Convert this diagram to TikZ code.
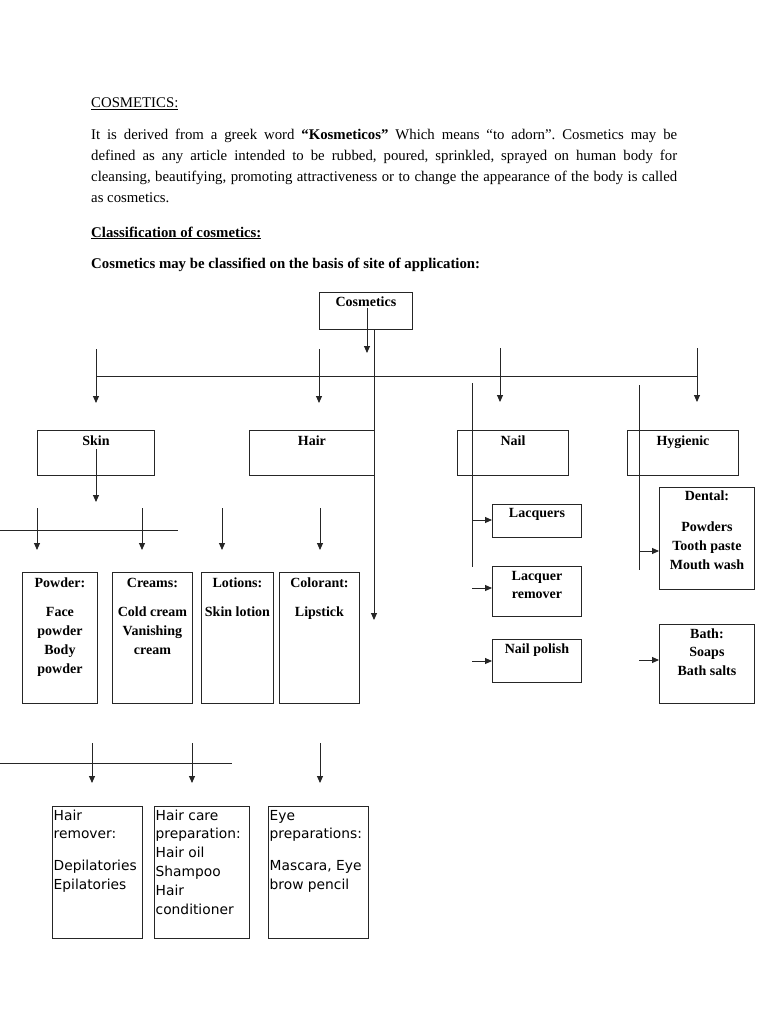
\documentclass[tikz,border=0pt]{standalone}
\usepackage{fontspec}
\setmainfont{Liberation Serif}
\newfontfamily\dvs{DejaVu Sans}
\usetikzlibrary{arrows.meta,calc}
\newcommand{\tc}[1]{\begin{tabular}[t]{@{}c@{}}#1\end{tabular}}
\newcommand{\tlft}[1]{\begin{tabular}[t]{@{}l@{}}#1\end{tabular}}
\frenchspacing
\begin{document}
\begin{tikzpicture}[x=1pt,y=-1pt,
  ln/.style={line width=0.9pt, draw=black!85},
  arr/.style={ln, -{Triangle[length=7pt,width=6pt]}},
  bx/.style={draw=black!85, line width=0.9pt, anchor=north west, inner sep=0pt},
  bl/.style={font=\fontsize{14}{18.8}\selectfont\bfseries, anchor=base, inner sep=0pt},
  sl/.style={font=\dvs\fontsize{13.8}{18.8}\selectfont, anchor=base west, inner sep=0pt},
  tx/.style={font=\fontsize{14.8}{21}\selectfont, anchor=base west, inner sep=0pt}]
\useasboundingbox (0,0) rectangle (768,1024);
\fill[white] (0,0) rectangle (768,1024);

% ---------- text ----------
\node[tx] (title) at (91,108) {\underline{COSMETICS:}};
\node[tx, text width=586pt, align=justify] (para) at (91,139.5)
 {It is derived from a greek word \textbf{“Kosmeticos”} Which means “to adorn”. Cosmetics may be\linebreak
  defined as any article intended to be rubbed, poured, sprinkled, sprayed on human body for\linebreak
  cleansing, beautifying, promoting attractiveness or to change the appearance of the body is called\linebreak
  as cosmetics.};
\node[tx] (class) at (91,237) {\underline{\textbf{Classification of cosmetics:}}};
\node[tx] (basis) at (91,268) {\textbf{Cosmetics may be classified on the basis of site of application:}};

% ---------- boxes ----------
\node[bx, minimum width=93pt, minimum height=37pt] (cos) at (319,292) {};
\node[bx, minimum width=117pt, minimum height=45pt] (skin) at (37,430) {};
\node[bx, minimum width=125pt, minimum height=45pt] (hair) at (249,430) {};
\node[bx, minimum width=111pt, minimum height=45pt] (nail) at (457,430) {};
\node[bx, minimum width=111pt, minimum height=45pt] (hyg) at (627,430) {};
\node[bx, minimum width=89pt, minimum height=33pt] (lacq) at (492,504) {};
\node[bx, minimum width=89pt, minimum height=50pt] (lrem) at (492,566) {};
\node[bx, minimum width=89pt, minimum height=43pt] (npol) at (492,639) {};
\node[bx, minimum width=95pt, minimum height=102pt] (dent) at (659,487) {};
\node[bx, minimum width=95pt, minimum height=79pt] (bath) at (659,624) {};
\node[bx, minimum width=75pt, minimum height=131pt] (powd) at (22,572) {};
\node[bx, minimum width=80pt, minimum height=131pt] (crea) at (112,572) {};
\node[bx, minimum width=72pt, minimum height=131pt] (loti) at (201,572) {};
\node[bx, minimum width=80pt, minimum height=131pt] (colo) at (279,572) {};
\node[bx, minimum width=90pt, minimum height=132pt] (hrem) at (52,806) {};
\node[bx, minimum width=95pt, minimum height=132pt] (hcar) at (154,806) {};
\node[bx, minimum width=100pt, minimum height=132pt] (eye) at (268,806) {};

% ---------- box labels ----------
\node[bl] (cosT) at ($(cos.north)+(0,14)$) {Cosmetics};
\node[bl] (skinT) at ($(skin.north)+(0,15)$) {Skin};
\node[bl] (hairT) at ($(hair.north)+(0,15)$) {Hair};
\node[bl] (nailT) at ($(nail.north)+(0,15)$) {Nail};
\node[bl] (hygT) at ($(hyg.north)+(0,15)$) {Hygienic};
\node[bl] (lacqT) at ($(lacq.north)+(0,13)$) {Lacquers};
\node[bl] (lremT) at ($(lrem.north)+(0,14)$) {\tc{Lacquer\\remover}};
\node[bl] (npolT) at ($(npol.north)+(0,14)$) {Nail polish};
\node[bl] (dentT) at ($(dent.north)+(0,13)$) {\tc{Dental:\\[13pt]Powders\\Tooth paste\\Mouth wash}};
\node[bl] (bathT) at ($(bath.north)+(0,14)$) {\tc{Bath:\\Soaps\\Bath salts}};
\node[bl] (powdT) at ($(powd.north)+(0,15)$) {\tc{Powder:\\[11pt]Face\\powder\\Body\\powder}};
\node[bl] (creaT) at ($(crea.north)+(0,15)$) {\tc{Creams:\\[11pt]Cold cream\\Vanishing\\cream}};
\node[bl] (lotiT) at ($(loti.north)+(0,15)$) {\tc{Lotions:\\[11pt]Skin lotion}};
\node[bl] (coloT) at ($(colo.north)+(0,15)$) {\tc{Colorant:\\[11pt]Lipstick}};
\node[sl] (hremT) at ($(hrem.north west)+(1.5,14)$) {\tlft{Hair\\remover:\\[13pt]Depilatories\\Epilatories}};
\node[sl] (hcarT) at ($(hcar.north west)+(1.5,14)$) {\tlft{Hair care\\preparation:\\Hair oil\\Shampoo\\Hair\\conditioner}};
\node[sl] (eyeT) at ($(eye.north west)+(1.5,14)$) {\tlft{Eye\\preparations:\\[13pt]Mascara, Eye\\brow pencil}};

% ---------- coordinates ----------
\coordinate (c1) at (367,308); \coordinate (c2) at (367,353);
\coordinate (v1) at (374,329); \coordinate (v2) at (374,620);
\coordinate (h1) at (96,376); \coordinate (h2) at (697,376);
\coordinate (a1s) at (96,349); \coordinate (a1e) at (96,403);
\coordinate (a2s) at (319,349); \coordinate (a2e) at (319,403);
\coordinate (a3s) at (500,348); \coordinate (a3e) at (500,402);
\coordinate (a4s) at (697,348); \coordinate (a4e) at (697,402);
\coordinate (s1) at (96,449); \coordinate (s2) at (96,502);
\coordinate (k1) at (0,530); \coordinate (k2) at (178,530);
\coordinate (b1s) at (37,508); \coordinate (b1e) at (37,550);
\coordinate (b2s) at (142,508); \coordinate (b2e) at (142,550);
\coordinate (b3s) at (222,508); \coordinate (b3e) at (222,550);
\coordinate (b4s) at (320,508); \coordinate (b4e) at (320,550);
\coordinate (n1) at (472,383); \coordinate (n2) at (472,567);
\coordinate (g1) at (639,385); \coordinate (g2) at (639,570);
\coordinate (na1) at (472,520); \coordinate (na2) at (472,588); \coordinate (na3) at (472,661);
\coordinate (ga1) at (639,551); \coordinate (ga2) at (639,660);
\coordinate (m1) at (0,763); \coordinate (m2) at (232,763);
\coordinate (d1s) at (92,743); \coordinate (d1e) at (92,783);
\coordinate (d2s) at (192,743); \coordinate (d2e) at (192,783);
\coordinate (d3s) at (320,743); \coordinate (d3e) at (320,783);

% ---------- connectors ----------
\draw[arr] (c1) -- (c2);
\draw[arr] (v1) -- (v2);
\draw[ln] (h1) -- (h2);
\draw[arr] (a1s) -- (a1e);
\draw[arr] (a2s) -- (a2e);
\draw[arr] (a3s) -- (a3e);
\draw[arr] (a4s) -- (a4e);
\draw[arr] (s1) -- (s2);
\draw[ln] (k1) -- (k2);
\draw[arr] (b1s) -- (b1e);
\draw[arr] (b2s) -- (b2e);
\draw[arr] (b3s) -- (b3e);
\draw[arr] (b4s) -- (b4e);
\draw[ln] (n1) -- (n2);
\draw[ln] (g1) -- (g2);
\draw[arr] (na1) -- (na1 -| lacq.west);
\draw[arr] (na2) -- (na2 -| lrem.west);
\draw[arr] (na3) -- (na3 -| npol.west);
\draw[arr] (ga1) -- (ga1 -| dent.west);
\draw[arr] (ga2) -- (ga2 -| bath.west);
\draw[ln] (m1) -- (m2);
\draw[arr] (d1s) -- (d1e);
\draw[arr] (d2s) -- (d2e);
\draw[arr] (d3s) -- (d3e);
\end{tikzpicture}
\end{document}
